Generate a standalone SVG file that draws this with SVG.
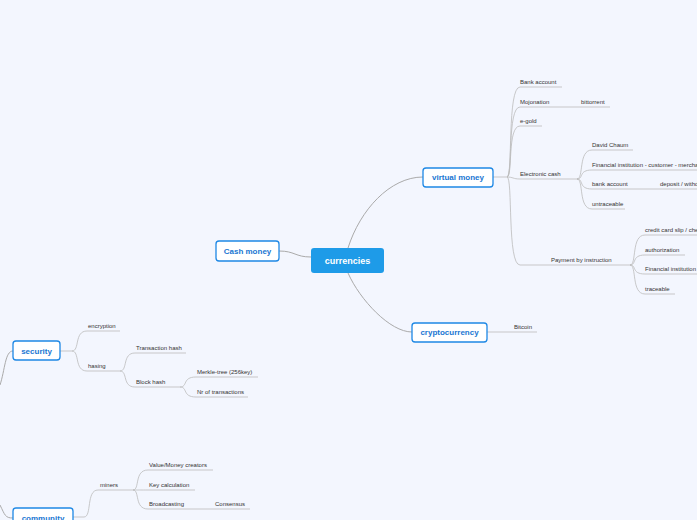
<svg xmlns="http://www.w3.org/2000/svg" width="697" height="520" viewBox="0 0 697 520">
<style>
text{font-family:"Liberation Sans",Arial,sans-serif}
.l{font-size:6px;fill:#333}
.n{fill:#fff;stroke:#1e88e5;stroke-width:1.3}
.nt{font-size:8px;font-weight:bold;fill:#1976d2;text-anchor:middle}
.c{fill:none;stroke:#bbb;stroke-width:0.8}
.m{fill:none;stroke:#aaa;stroke-width:1}
</style>
<rect width="697" height="520" fill="#f3f6fe"/>
<g id="connectors">
<path class="m" d="M348 248 C360 210 390 177 423 177"/>
<path class="m" d="M348 273 C360 300 390 332 412 332"/>
<path class="m" d="M279 251 C295 251 295 257 311 257"/>
<path class="m" d="M0 385 C5 370 5 351 13 351"/>
<path class="m" d="M0 505 C5 515 5 518 13 518"/>
<path class="c" d="M493 177 L507 177"/>
<path class="c" d="M507 177 C513 177 507 87 520 87 L562 87"/>
<path class="c" d="M507 177 C513 177 507 107 520 107 L610 107"/>
<path class="c" d="M507 177 C513 177 507 126 520 126 L542 126"/>
<path class="c" d="M507 177 C513 177 513 179 520 179 L577 179"/>
<path class="c" d="M507 177 C513 177 507 265 520 265 L630 265"/>
<path class="c" d="M577 179 C584 179 578 150 592 150 L633 150"/>
<path class="c" d="M577 179 C584 179 578 170 592 170 L697 170"/>
<path class="c" d="M577 179 C584 179 578 189 592 189 L697 189"/>
<path class="c" d="M577 179 C584 179 578 209 592 209 L625 209"/>
<path class="c" d="M630 265 C637 265 631 235 645 235 L697 235"/>
<path class="c" d="M630 265 C637 265 631 255 645 255 L685 255"/>
<path class="c" d="M630 265 C637 265 631 274 645 274 L697 274"/>
<path class="c" d="M630 265 C637 265 631 294 645 294 L675 294"/>
<path class="c" d="M487 332 L537 332"/>
<path class="c" d="M60 351 L72 351"/>
<path class="c" d="M72 351 C80 351 74 331 87 331 L120 331"/>
<path class="c" d="M72 351 C80 351 74 371 87 371 L120 371"/>
<path class="c" d="M120 371 C128 371 122 353 135 353 L186 353"/>
<path class="c" d="M120 371 C128 371 122 387 135 387 L180 387"/>
<path class="c" d="M180 387 C188 387 182 377 196 377 L258 377"/>
<path class="c" d="M180 387 C188 387 182 397 196 397 L248 397"/>
<path class="c" d="M73 517 L84 517"/>
<path class="c" d="M84 517 C92 517 86 490 98 490 L133 490"/>
<path class="c" d="M133 490 C140 490 134 470 148 470 L213 470"/>
<path class="c" d="M133 490 C140 490 134 490 148 490 L195 490"/>
<path class="c" d="M133 490 C140 490 134 509 148 509 L250 509"/>
</g>
<g id="currencies"><rect x="311" y="248" width="73" height="25" rx="3" fill="#1e9be8"/><text x="347.5" y="264" font-size="9" font-weight="bold" fill="#fff" text-anchor="middle">currencies</text></g>
<g id="virtual-money"><rect class="n" x="423" y="168" width="70" height="19" rx="3"/><text class="nt" x="458" y="180">virtual money</text></g>
<g id="cash-money"><rect class="n" x="216" y="241" width="63" height="20" rx="3"/><text class="nt" x="247.5" y="254">Cash money</text></g>
<g id="cryptocurrency"><rect class="n" x="412" y="323" width="75" height="19" rx="3"/><text class="nt" x="449.5" y="335">cryptocurrency</text></g>
<g id="security"><rect class="n" x="13" y="341" width="47" height="19" rx="3"/><text class="nt" x="36.5" y="354">security</text></g>
<g id="community"><rect class="n" x="13" y="508" width="60" height="20" rx="3"/><text class="nt" x="43" y="521">community</text></g>
<g id="labels">
<text class="l" x="520" y="84">Bank account</text>
<text class="l" x="520" y="104">Mojonation</text>
<text class="l" x="581" y="104">bittorrent</text>
<text class="l" x="520" y="123">e-gold</text>
<text class="l" x="520" y="176">Electronic cash</text>
<text class="l" x="592" y="147">David Chaum</text>
<text class="l" x="592" y="167">Financial institution - customer - merchant</text>
<text class="l" x="592" y="186">bank account</text>
<text class="l" x="660" y="186">deposit / withdraw</text>
<text class="l" x="592" y="206">untraceable</text>
<text class="l" x="551" y="262">Payment by instruction</text>
<text class="l" x="645" y="232">credit card slip / check</text>
<text class="l" x="645" y="252">authorization</text>
<text class="l" x="645" y="271">Financial institution</text>
<text class="l" x="645" y="291">traceable</text>
<text class="l" x="514" y="329">Bitcoin</text>
<text class="l" x="88" y="328">encryption</text>
<text class="l" x="88" y="368">hasing</text>
<text class="l" x="136" y="350">Transaction hash</text>
<text class="l" x="136" y="384">Block hash</text>
<text class="l" x="197" y="374">Merkle-tree (256key)</text>
<text class="l" x="197" y="394">Nr of transactions</text>
<text class="l" x="100" y="487">miners</text>
<text class="l" x="149" y="467">Value/Money creators</text>
<text class="l" x="149" y="487">Key calculation</text>
<text class="l" x="149" y="506">Broadcasting</text>
<text class="l" x="215" y="506">Consensus</text>
</g>
</svg>
